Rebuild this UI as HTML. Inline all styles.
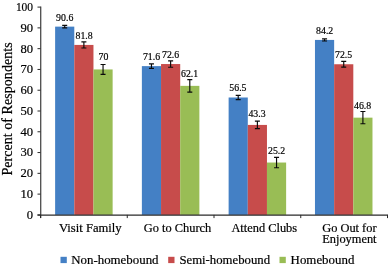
<!DOCTYPE html>
<html><head><meta charset="utf-8"><title>chart</title>
<style>html,body{margin:0;padding:0;background:#fff}svg text{font-family:"Liberation Serif",serif;fill:#000;stroke:#000;stroke-width:0.2px}</style></head>
<body>
<svg width="388" height="268" viewBox="0 0 388 268" style="display:block;filter:blur(0.35px)">
<rect width="388" height="268" fill="#fff"/>
<rect x="55.12" y="26.63" width="19.17" height="188.27" fill="#4480c5"/>
<rect x="74.29" y="44.92" width="19.17" height="169.98" fill="#c74c4b"/>
<rect x="93.46" y="69.44" width="19.17" height="145.46" fill="#99bd55"/>
<rect x="141.87" y="66.12" width="19.17" height="148.78" fill="#4480c5"/>
<rect x="161.04" y="64.04" width="19.17" height="150.86" fill="#c74c4b"/>
<rect x="180.21" y="85.86" width="19.17" height="129.04" fill="#99bd55"/>
<rect x="228.62" y="97.49" width="19.17" height="117.41" fill="#4480c5"/>
<rect x="247.79" y="124.92" width="19.17" height="89.98" fill="#c74c4b"/>
<rect x="266.96" y="162.53" width="19.17" height="52.37" fill="#99bd55"/>
<rect x="314.97" y="39.93" width="19.17" height="174.97" fill="#4480c5"/>
<rect x="334.14" y="64.25" width="19.17" height="150.66" fill="#c74c4b"/>
<rect x="353.31" y="117.65" width="19.17" height="97.25" fill="#99bd55"/>
<path d="M64.70 25.39V27.88M62.20 25.39H67.20M62.20 27.88H67.20" stroke="#0a0a0a" stroke-width="1.15" fill="none"/>
<text transform="translate(64.70,20.70) scale(0.91,1)" font-size="10.8" text-anchor="middle">90.6</text>
<path d="M83.88 41.86V47.97M81.38 41.86H86.38M81.38 47.97H86.38" stroke="#0a0a0a" stroke-width="1.15" fill="none"/>
<text transform="translate(84.08,38.90) scale(0.91,1)" font-size="10.8" text-anchor="middle">81.8</text>
<path d="M103.05 64.45V74.43M100.55 64.45H105.55M100.55 74.43H105.55" stroke="#0a0a0a" stroke-width="1.15" fill="none"/>
<text transform="translate(103.45,59.70) scale(0.91,1)" font-size="10.8" text-anchor="middle">70</text>
<path d="M151.46 63.83V68.40M148.96 63.83H153.96M148.96 68.40H153.96" stroke="#0a0a0a" stroke-width="1.15" fill="none"/>
<text transform="translate(151.46,60.10) scale(0.91,1)" font-size="10.8" text-anchor="middle">71.6</text>
<path d="M170.63 60.82V67.26M168.13 60.82H173.13M168.13 67.26H173.13" stroke="#0a0a0a" stroke-width="1.15" fill="none"/>
<text transform="translate(170.63,57.90) scale(0.91,1)" font-size="10.8" text-anchor="middle">72.6</text>
<path d="M189.80 79.62V92.09M187.30 79.62H192.30M187.30 92.09H192.30" stroke="#0a0a0a" stroke-width="1.15" fill="none"/>
<text transform="translate(189.60,77.20) scale(0.91,1)" font-size="10.8" text-anchor="middle">62.1</text>
<path d="M238.21 95.42V99.57M235.71 95.42H240.71M235.71 99.57H240.71" stroke="#0a0a0a" stroke-width="1.15" fill="none"/>
<text transform="translate(237.91,91.40) scale(0.91,1)" font-size="10.8" text-anchor="middle">56.5</text>
<path d="M257.38 121.18V128.66M254.88 121.18H259.88M254.88 128.66H259.88" stroke="#0a0a0a" stroke-width="1.15" fill="none"/>
<text transform="translate(256.98,117.40) scale(0.91,1)" font-size="10.8" text-anchor="middle">43.3</text>
<path d="M276.55 157.34V167.73M274.05 157.34H279.05M274.05 167.73H279.05" stroke="#0a0a0a" stroke-width="1.15" fill="none"/>
<text transform="translate(276.55,153.80) scale(0.91,1)" font-size="10.8" text-anchor="middle">25.2</text>
<path d="M324.56 38.89V40.97M322.06 38.89H327.06M322.06 40.97H327.06" stroke="#0a0a0a" stroke-width="1.15" fill="none"/>
<text transform="translate(324.66,33.90) scale(0.91,1)" font-size="10.8" text-anchor="middle">84.2</text>
<path d="M343.73 61.44V67.05M341.23 61.44H346.23M341.23 67.05H346.23" stroke="#0a0a0a" stroke-width="1.15" fill="none"/>
<text transform="translate(343.62,58.00) scale(0.91,1)" font-size="10.8" text-anchor="middle">72.5</text>
<path d="M362.90 111.52V123.78M360.40 111.52H365.40M360.40 123.78H365.40" stroke="#0a0a0a" stroke-width="1.15" fill="none"/>
<text transform="translate(362.60,109.10) scale(0.91,1)" font-size="10.8" text-anchor="middle">46.8</text>
<path d="M40.75 6.60V217.9" stroke="#2a2a2a" stroke-width="1.1" fill="none"/>
<path d="M37.5 215.15H388.0" stroke="#2a2a2a" stroke-width="1.1" fill="none"/>
<path d="M37.5 214.90H40.5" stroke="#2a2a2a" stroke-width="1"/>
<text x="33.1" y="218.80" font-size="12.6" text-anchor="end">0</text>
<path d="M37.5 194.12H40.5" stroke="#2a2a2a" stroke-width="1"/>
<text x="33.1" y="198.02" font-size="12.6" text-anchor="end">10</text>
<path d="M37.5 173.34H40.5" stroke="#2a2a2a" stroke-width="1"/>
<text x="33.1" y="177.24" font-size="12.6" text-anchor="end">20</text>
<path d="M37.5 152.56H40.5" stroke="#2a2a2a" stroke-width="1"/>
<text x="33.1" y="156.46" font-size="12.6" text-anchor="end">30</text>
<path d="M37.5 131.78H40.5" stroke="#2a2a2a" stroke-width="1"/>
<text x="33.1" y="135.68" font-size="12.6" text-anchor="end">40</text>
<path d="M37.5 111.00H40.5" stroke="#2a2a2a" stroke-width="1"/>
<text x="33.1" y="114.90" font-size="12.6" text-anchor="end">50</text>
<path d="M37.5 90.22H40.5" stroke="#2a2a2a" stroke-width="1"/>
<text x="33.1" y="94.12" font-size="12.6" text-anchor="end">60</text>
<path d="M37.5 69.44H40.5" stroke="#2a2a2a" stroke-width="1"/>
<text x="33.1" y="73.34" font-size="12.6" text-anchor="end">70</text>
<path d="M37.5 48.66H40.5" stroke="#2a2a2a" stroke-width="1"/>
<text x="33.1" y="52.56" font-size="12.6" text-anchor="end">80</text>
<path d="M37.5 27.88H40.5" stroke="#2a2a2a" stroke-width="1"/>
<text x="33.1" y="31.78" font-size="12.6" text-anchor="end">90</text>
<path d="M37.5 7.10H40.5" stroke="#2a2a2a" stroke-width="1"/>
<text x="33.1" y="11.00" font-size="12.6" text-anchor="end" textLength="17.2" lengthAdjust="spacingAndGlyphs">100</text>
<path d="M40.50 214.9V218.1" stroke="#2a2a2a" stroke-width="1"/>
<path d="M127.25 214.9V218.1" stroke="#2a2a2a" stroke-width="1"/>
<path d="M214.00 214.9V218.1" stroke="#2a2a2a" stroke-width="1"/>
<path d="M300.75 214.9V218.1" stroke="#2a2a2a" stroke-width="1"/>
<path d="M387.50 214.9V218.1" stroke="#2a2a2a" stroke-width="1"/>
<text x="59.00" y="231.6" font-size="12.6">Visit Family</text>
<text x="143.80" y="231.6" font-size="12.4">Go to Church</text>
<text x="231.40" y="231.6" font-size="12.4">Attend Clubs</text>
<text x="322.20" y="231.6" font-size="12.4">Go Out for</text>
<text x="322.20" y="243.0" font-size="12.4">Enjoyment</text>
<text transform="translate(12.2,108.95) rotate(-90)" font-size="14.12" text-anchor="middle">Percent of Respondents</text>
<rect x="60.5" y="256.8" width="6.3" height="6.3" fill="#4480c5"/>
<text x="71.2" y="264.1" font-size="12.9">Non-homebound</text>
<rect x="168.2" y="256.8" width="6.3" height="6.3" fill="#c74c4b"/>
<text x="179.4" y="264.1" font-size="12.75">Semi-homebound</text>
<rect x="279.5" y="256.8" width="6.3" height="6.3" fill="#99bd55"/>
<text x="290.6" y="264.1" font-size="12.9">Homebound</text>
</svg>
</body></html>
